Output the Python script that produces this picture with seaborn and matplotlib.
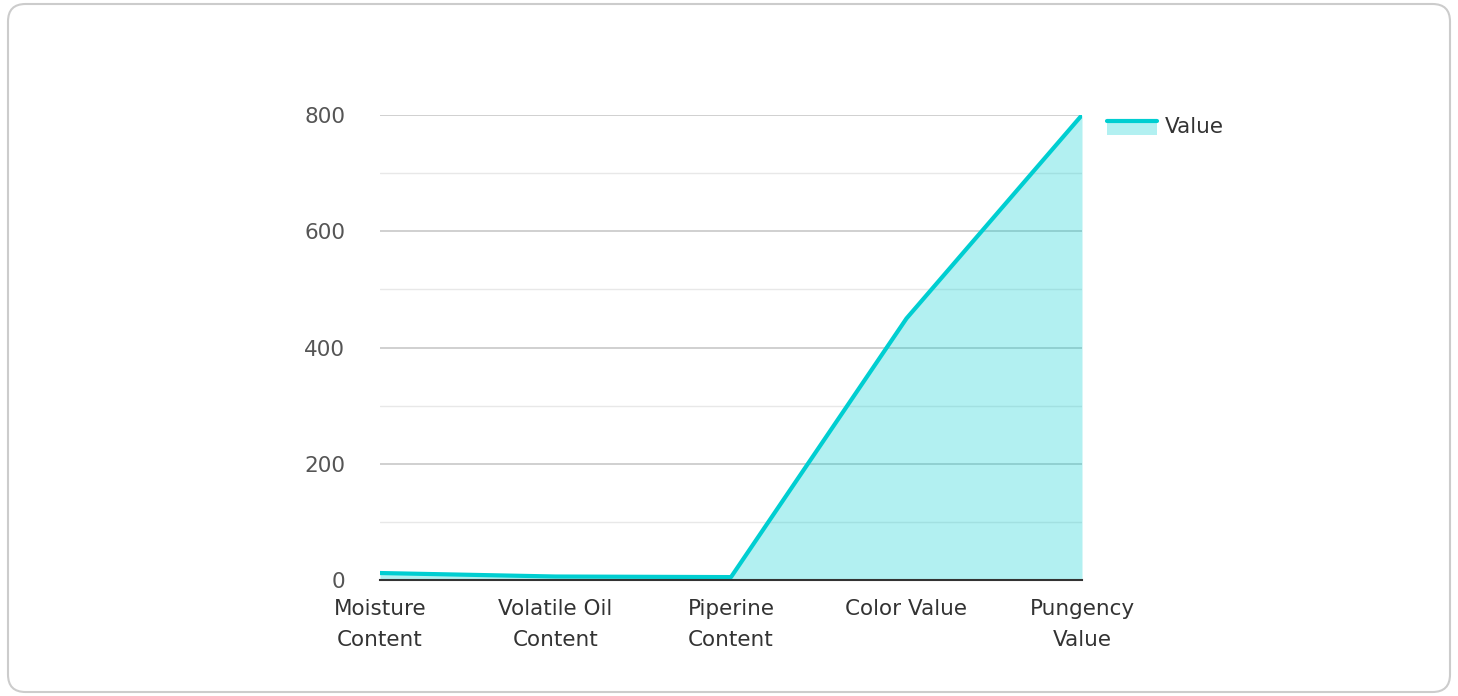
import matplotlib
matplotlib.use("Agg")
import matplotlib.pyplot as plt
import seaborn as sns
import pandas as pd
from matplotlib.patches import FancyBboxPatch, Rectangle
from matplotlib.lines import Line2D
from matplotlib.legend_handler import HandlerBase

categories = ["Moisture\nContent", "Volatile Oil\nContent", "Piperine\nContent", "Color Value", "Pungency\nValue"]
values = [12, 6, 5, 450, 800]
series_name = "Value"
y_ticks = [0, 200, 400, 600, 800]
y_minor = [100, 300, 500, 700]

LINE = "#00CED1"
FILL = "#00CED1"
FS = 15.5

sns.set_theme(style="white")
plt.rcParams["font.family"] = ["DejaVu Sans"]

df = pd.DataFrame({"cat": categories, "val": values})
df["x"] = range(len(categories))

fig = plt.figure(figsize=(14.58, 6.96), dpi=100)
ax = fig.add_axes([380 / 1458, 116 / 696, (1082 - 380) / 1458, (580 - 115) / 696])

ax.fill_between(df["x"], 0, df["val"], color=FILL, alpha=0.3, linewidth=0, zorder=3)
sns.lineplot(data=df, x="x", y="val", ax=ax, color=LINE, linewidth=3, zorder=4,
             sort=False, legend=False)

ax.set_xlim(0, len(categories) - 1)
ax.set_ylim(0, 800)
ax.set_xticks(df["x"])
ax.set_xticklabels(categories, fontsize=FS, color="#333333", linespacing=1.65)
ax.set_yticks(y_ticks)
ax.set_yticklabels([str(v) for v in y_ticks], fontsize=FS, color="#555555")
ax.set_yticks(y_minor, minor=True)
ax.tick_params(axis="y", which="both", length=0, pad=25)
ax.tick_params(axis="x", length=0, pad=14)
ax.set_xlabel("")
ax.set_ylabel("")

for v in y_ticks[1:]:
    ax.axhline(v, color="#c8c8c8", linewidth=1.2, zorder=1)
for v in y_minor:
    ax.axhline(v, color="#e8e8e8", linewidth=1.0, zorder=1)

for s in ["left", "right", "top"]:
    ax.spines[s].set_visible(False)
ax.spines["bottom"].set_color("#333333")
ax.spines["bottom"].set_linewidth(1.5)
ax.spines["bottom"].set_zorder(5)


class AreaHandler(HandlerBase):
    def create_artists(self, legend, orig_handle, xdescent, ydescent, width, height, fontsize, trans):
        rect = Rectangle((-xdescent, -ydescent), width, height * 0.75,
                         facecolor=FILL, alpha=0.3, edgecolor="none", transform=trans)
        line = Line2D([-xdescent, -xdescent + width], [height * 0.75 - ydescent] * 2,
                      color=LINE, linewidth=3, transform=trans)
        return [rect, line]


handle = Rectangle((0, 0), 1, 1)
leg = fig.legend([handle], [series_name], handler_map={Rectangle: AreaHandler()},
                 loc="upper left", bbox_to_anchor=(1107 / 1458, 1 - 117 / 696),
                 frameon=False, fontsize=FS, handlelength=2.3, handleheight=0.9,
                 handletextpad=0.4, borderaxespad=0, borderpad=0)
for t in leg.get_texts():
    t.set_color("#333333")

border = FancyBboxPatch((8 / 1458, 4 / 696), 1442 / 1458, 688 / 696,
                        boxstyle="round,pad=0,rounding_size=0.012",
                        transform=fig.transFigure, facecolor="none",
                        edgecolor="#cccccc", linewidth=1.5, mutation_aspect=1458 / 696)
fig.patches.append(border)

fig.savefig("out.png", dpi=100)
